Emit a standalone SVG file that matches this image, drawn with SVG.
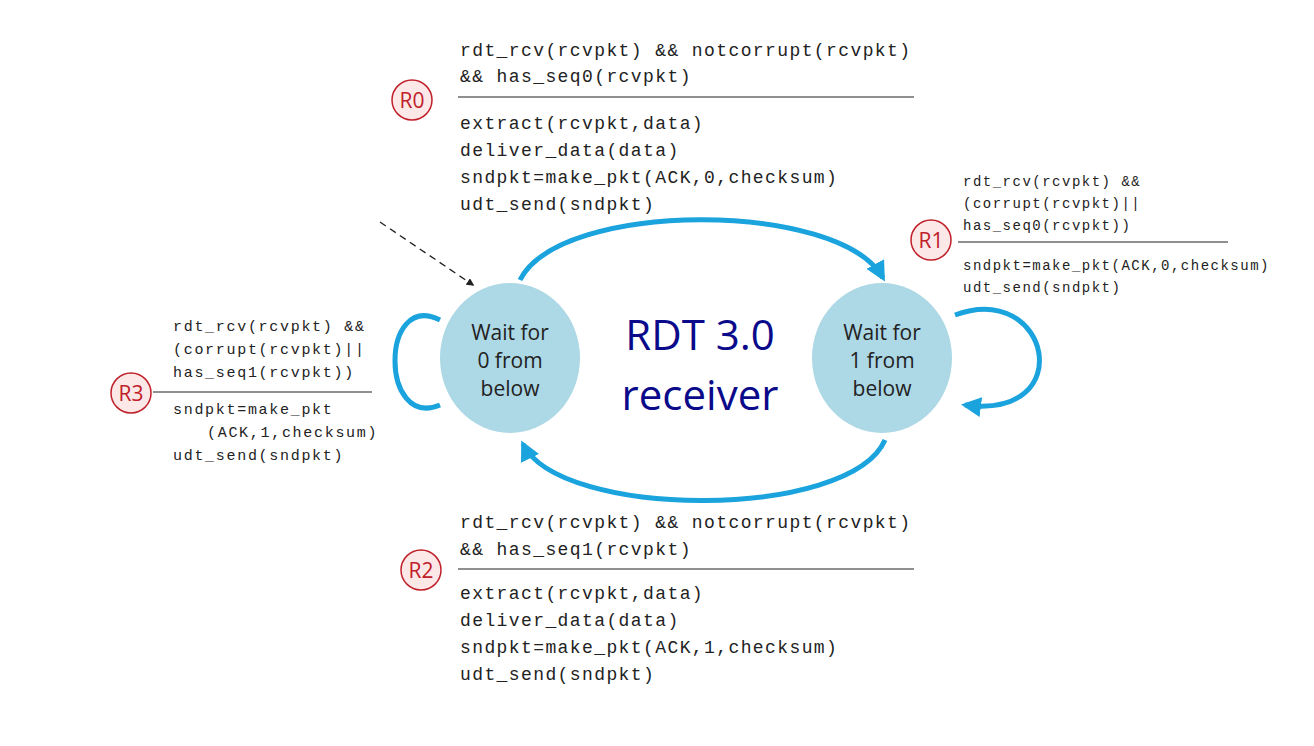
<svg xmlns="http://www.w3.org/2000/svg" width="1314" height="746" viewBox="0 0 1314 746">
<style>
.m{font-family:"Liberation Mono",monospace;font-size:18px;letter-spacing:1.4px;fill:#222}
.ms{font-family:"Liberation Mono",monospace;font-size:14px;letter-spacing:1.5px;fill:#222}
.mt{font-family:"Liberation Mono",monospace;font-size:15px;letter-spacing:1.7px;fill:#222}
.st{fill:#add8e6}
.sl{font-family:"Open Sans","DejaVu Sans",sans-serif;font-size:21px;fill:#222;text-anchor:middle}
.tag circle{fill:#fde8e8;stroke:#c0202a;stroke-width:1.5}
.tag text{font-family:"Open Sans","DejaVu Sans",sans-serif;font-size:21px;fill:#c0202a;text-anchor:middle}
.e{fill:none;stroke:#1aa3dd;stroke-width:5}
.ln{stroke:#222;stroke-width:1.2}
.ti{font-family:"Open Sans","DejaVu Sans",sans-serif;font-size:42px;fill:#0a0a8a;text-anchor:middle}
</style>
<defs>
<marker id="a" viewBox="0 0 10 10" refX="8" refY="5" markerWidth="4" markerHeight="4" orient="auto"><path d="M0,0L10,5L0,10z" fill="#1aa3dd"/></marker>
<marker id="k" viewBox="0 0 10 10" refX="8" refY="5" markerWidth="6" markerHeight="6" orient="auto"><path d="M0,0L10,5L0,10z" fill="#222"/></marker>
</defs>
<rect width="1314" height="746" fill="#fff"/>
<g id="connectors">
<path class="e" d="M520,280 C560,200 840,200 883,278" marker-end="url(#a)"/>
<path class="e" d="M885,440 C850,520 560,520 523,444" marker-end="url(#a)"/>
<path class="e" d="M440,320 C380,290 380,430 440,405"/>
<path class="e" d="M955,315 C1050,280 1080,420 965,405" marker-end="url(#a)"/>
<path d="M380,222 L473,285" stroke="#222" stroke-width="1.3" stroke-dasharray="7,5" fill="none" marker-end="url(#k)"/>
</g>
<g id="s0"><ellipse class="st" cx="510" cy="358" rx="70" ry="75"/>
<text class="sl" x="510" y="340">Wait for</text><text class="sl" x="510" y="368">0 from</text><text class="sl" x="510" y="396">below</text></g>
<g id="s1"><ellipse class="st" cx="882" cy="358" rx="70" ry="75"/>
<text class="sl" x="882" y="340">Wait for</text><text class="sl" x="882" y="368">1 from</text><text class="sl" x="882" y="396">below</text></g>
<g id="title"><text class="ti" x="700" y="350">RDT 3.0</text>
<text class="ti" x="700" y="410">receiver</text></g>
<g id="R0"><g class="tag"><circle cx="412" cy="100" r="20"/><text x="412" y="108">R0</text></g>
<text class="m" x="460" y="56">rdt_rcv(rcvpkt) &amp;&amp; notcorrupt(rcvpkt)</text>
<text class="m" x="460" y="82">&amp;&amp; has_seq0(rcvpkt)</text>
<line class="ln" x1="458" y1="97" x2="914" y2="97"/>
<text class="m" x="460" y="129">extract(rcvpkt,data)</text>
<text class="m" x="460" y="156">deliver_data(data)</text>
<text class="m" x="460" y="183">sndpkt=make_pkt(ACK,0,checksum)</text>
<text class="m" x="460" y="210">udt_send(sndpkt)</text></g>
<g id="R1"><g class="tag"><circle cx="931" cy="240" r="20"/><text x="931" y="248">R1</text></g>
<text class="ms" x="963" y="186">rdt_rcv(rcvpkt) &amp;&amp;</text>
<text class="ms" x="963" y="208">(corrupt(rcvpkt)||</text>
<text class="ms" x="963" y="230">has_seq0(rcvpkt))</text>
<line class="ln" x1="958" y1="242" x2="1228" y2="242"/>
<text class="ms" x="963" y="270">sndpkt=make_pkt(ACK,0,checksum)</text>
<text class="ms" x="963" y="292">udt_send(sndpkt)</text></g>
<g id="R2"><g class="tag"><circle cx="421" cy="570" r="20"/><text x="421" y="578">R2</text></g>
<text class="m" x="460" y="528">rdt_rcv(rcvpkt) &amp;&amp; notcorrupt(rcvpkt)</text>
<text class="m" x="460" y="555">&amp;&amp; has_seq1(rcvpkt)</text>
<line class="ln" x1="458" y1="569" x2="914" y2="569"/>
<text class="m" x="460" y="599">extract(rcvpkt,data)</text>
<text class="m" x="460" y="626">deliver_data(data)</text>
<text class="m" x="460" y="653">sndpkt=make_pkt(ACK,1,checksum)</text>
<text class="m" x="460" y="680">udt_send(sndpkt)</text></g>
<g id="R3"><g class="tag"><circle cx="131" cy="393" r="20"/><text x="131" y="401">R3</text></g>
<text class="mt" x="173" y="331">rdt_rcv(rcvpkt) &amp;&amp;</text>
<text class="mt" x="173" y="354">(corrupt(rcvpkt)||</text>
<text class="mt" x="173" y="377">has_seq1(rcvpkt))</text>
<line class="ln" x1="153" y1="392" x2="372" y2="392"/>
<text class="mt" x="173" y="414">sndpkt=make_pkt</text>
<text class="mt" x="207" y="437">(ACK,1,checksum)</text>
<text class="mt" x="173" y="460">udt_send(sndpkt)</text></g>
</svg>
